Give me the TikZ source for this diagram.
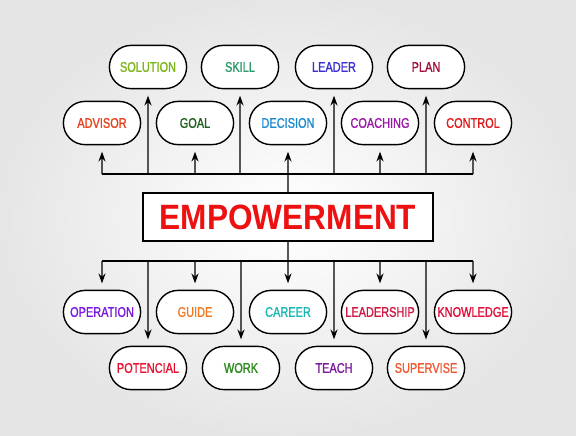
\documentclass[tikz,border=0pt]{standalone}
\usepackage{fontspec}
\setmainfont{Liberation Sans}
\newfontfamily\lblfont[FakeStretch=0.78,FakeBold=1.2]{Liberation Sans}
\newfontfamily\ttlfont[FakeStretch=0.9]{Liberation Sans}
\usetikzlibrary{shapes.misc,arrows.meta}

\definecolor{cSolution}{HTML}{7CB518}
\definecolor{cSkill}{HTML}{2E9A6A}
\definecolor{cLeader}{HTML}{3A2FD0}
\definecolor{cPlan}{HTML}{A0103A}
\definecolor{cAdvisor}{HTML}{E8401A}
\definecolor{cGoal}{HTML}{1F5F1F}
\definecolor{cDecision}{HTML}{1A8AD0}
\definecolor{cCoaching}{HTML}{9A1AA8}
\definecolor{cControl}{HTML}{E01A1A}
\definecolor{cOperation}{HTML}{7A1AE0}
\definecolor{cGuide}{HTML}{F07A20}
\definecolor{cCareer}{HTML}{18B8B0}
\definecolor{cLeadership}{HTML}{D01840}
\definecolor{cKnowledge}{HTML}{E0103A}
\definecolor{cPotencial}{HTML}{E81030}
\definecolor{cWork}{HTML}{2A8A1A}
\definecolor{cTeach}{HTML}{7A1A9A}
\definecolor{cSupervise}{HTML}{F05A30}
\definecolor{cEmp}{HTML}{EE1111}

\tikzset{
  pill/.style={rounded rectangle, draw, line width=1pt, fill=white,
    minimum width=2cm, minimum height=1.08cm, inner sep=1pt,
    font=\lblfont\fontsize{10}{12}\selectfont},
  titlebox/.style={draw, line width=0.9pt, fill=white, minimum width=7.25cm,
    minimum height=1.2cm, text=cEmp, font=\ttlfont\bfseries\fontsize{25}{30}\selectfont},
  link/.style={line width=1pt, shorten >=4.5pt}
}

\begin{document}
\begin{tikzpicture}[x=0.025cm,y=-0.025cm,>={Stealth[length=7pt,width=5pt]}]
\useasboundingbox (0,0) rectangle (576,435);
\shade[inner color=white, outer color=gray!20] (0,0) rectangle (576,435);

% centre
\node[titlebox] (emp) at (288,217) {EMPOWERMENT};

% upper branches
\node[pill,text=cSolution] (solution) at (148,67) {SOLUTION};
\node[pill,text=cSkill] (skill) at (240,67) {SKILL};
\node[pill,text=cLeader] (leader) at (334,67) {LEADER};
\node[pill,text=cPlan] (plan) at (426,67) {PLAN};
\node[pill,text=cAdvisor] (advisor) at (102,123) {ADVISOR};
\node[pill,text=cGoal] (goal) at (195,123) {GOAL};
\node[pill,text=cDecision] (decision) at (288,123) {DECISION};
\node[pill,text=cCoaching] (coaching) at (380,123) {COACHING};
\node[pill,text=cControl] (control) at (473,123) {CONTROL};

% lower branches
\node[pill,text=cOperation] (operation) at (102,312) {OPERATION};
\node[pill,text=cGuide] (guide) at (195,312) {GUIDE};
\node[pill,text=cCareer] (career) at (288,312) {CAREER};
\node[pill,text=cLeadership] (leadership) at (380,312) {LEADERSHIP};
\node[pill,text=cKnowledge] (knowledge) at (473,312) {KNOWLEDGE};
\node[pill,text=cPotencial] (potencial) at (148,368) {POTENCIAL};
\node[pill,text=cWork] (work) at (241,368) {WORK};
\node[pill,text=cTeach] (teach) at (334,368) {TEACH};
\node[pill,text=cSupervise] (supervise) at (426,368) {SUPERVISE};

% buses
\coordinate (tb) at (288,174);
\coordinate (bb) at (288,261);
\draw[line width=1pt] (advisor |- tb) -- (control |- tb);
\draw[line width=1pt] (operation |- bb) -- (knowledge |- bb);

\draw[link,->] (emp.north) -- (decision);
\foreach \n in {advisor,goal,coaching,control,solution,skill,leader,plan}
  \draw[link,->] (\n |- tb) -- (\n);

\draw[link,->] (emp.south) -- (career);
\foreach \n in {operation,guide,leadership,knowledge,potencial,work,teach,supervise}
  \draw[link,->] (\n |- bb) -- (\n);
\end{tikzpicture}
\end{document}
